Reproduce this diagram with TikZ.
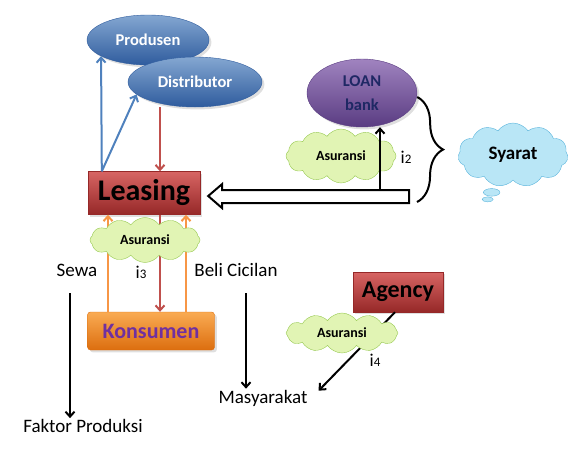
\documentclass[tikz,border=0pt]{standalone}
\usepackage{fontspec}
\setmainfont{Carlito}
\usetikzlibrary{positioning,shapes.geometric,shapes.symbols,shapes.callouts,arrows.meta,decorations.pathreplacing,shadows}

\definecolor{elblue}{RGB}{79,129,189}
\definecolor{elbluedark}{RGB}{47,92,158}
\definecolor{boxred}{RGB}{205,62,60}
\definecolor{boxreddark}{RGB}{150,40,40}
\definecolor{orangebox}{RGB}{248,150,40}
\definecolor{orangedark}{RGB}{220,110,15}
\definecolor{purpleel}{RGB}{128,90,170}
\definecolor{purpledark}{RGB}{90,60,130}
\definecolor{navytext}{RGB}{31,40,100}
\definecolor{cloudgreen}{RGB}{225,244,180}
\definecolor{cloudgreenline}{RGB}{150,200,80}
\definecolor{cloudblue}{RGB}{185,230,246}
\definecolor{cloudblueline}{RGB}{90,180,220}
\definecolor{arrowred}{RGB}{192,80,77}
\definecolor{arroworange}{RGB}{247,150,70}
\definecolor{konsviolet}{RGB}{112,48,160}

\begin{document}
\begin{tikzpicture}[x=1pt,y=-1pt,
  ell/.style={ellipse,draw=elbluedark,top color=elblue!70,bottom color=elbluedark,text=white,font=\bfseries\fontsize{16.5}{18}\selectfont,inner sep=0pt,drop shadow={opacity=0.25}},
  redbox/.style={rectangle,draw=boxreddark,top color=boxred!80,bottom color=boxreddark,inner sep=0pt,font=\bfseries,drop shadow={opacity=0.25}},
  asur/.style={cloud,cloud puffs=12,cloud puff arc=110,cloud ignores aspect,draw=cloudgreenline,fill=cloudgreen,inner sep=0pt,font=\bfseries\fontsize{14}{16}\selectfont},
  lbl/.style={font=\fontsize{19}{21}\selectfont,inner sep=1pt},
  ilbl/.style={font=\fontsize{18}{20}\selectfont,inner sep=1pt},
  tip/.style={-{Straight Barb[length=5pt,width=9pt]}},
  cn/.style={line width=2pt}]

\useasboundingbox (0,0) rectangle (588,461);

% top ellipses
\node[ell,minimum width=122,minimum height=50](prod) at (148,40) {Produsen};
\node[ell,minimum width=134,minimum height=50](dist) at (195,82) {Distributor};

% main boxes
\node[redbox,minimum width=112,minimum height=43,font=\bfseries\fontsize{30}{32}\selectfont](leas) at (144,193) {Leasing};
\node[rectangle,rounded corners=3pt,draw=orangedark,top color=orangebox!80,bottom color=orangedark,minimum width=127,minimum height=38,inner sep=0pt,text=konsviolet,font=\bfseries\fontsize{22}{24}\selectfont,drop shadow={opacity=0.25}](kons) at (151,331) {Konsumen};
\node[redbox,minimum width=90,minimum height=40,font=\bfseries\fontsize{24}{26}\selectfont](agen) at (398,292) {Agency};

% loan bank
\node[ellipse,draw=purpledark,top color=purpleel!75,bottom color=purpledark,minimum width=110,minimum height=68,inner sep=0pt,align=center,text=navytext,font=\bfseries\fontsize{16.5}{24}\selectfont,drop shadow={opacity=0.25}](loan) at (362,93) {LOAN\\bank};

% labels
\node[ilbl](i2) at (406,157) {i{\fontsize{13}{14}\selectfont 2}};
\node[ilbl](i3) at (141,272) {i{\fontsize{13}{14}\selectfont 3}};
\node[ilbl](i4) at (375,360) {i{\fontsize{13}{14}\selectfont 4}};
\node[lbl](sewa) at (77,270) {Sewa};
\node[lbl](beli) at (236,270) {Beli Cicilan};
\node[lbl](fakt) at (83,426) {Faktor Produksi};
\node[lbl](masy) at (263,398) {Masyarakat};

% connectors
\draw[tip,elblue,cn]([xshift=14pt]leas.north west) -- (prod.199);
\draw[tip,elblue,cn]([xshift=14pt]leas.north west) -- (dist.192);
\draw[tip,arrowred,cn]([xshift=16pt]leas.north |- dist.south) -- ([xshift=16pt]leas.north);
\draw[tip,arrowred,cn]([xshift=16pt]leas.south) -- ([xshift=16pt]leas.south |- kons.north);
\foreach \s in {-36,42}{
  \draw[tip,arroworange,cn]([xshift=\s pt]leas.south |- kons.north) -- ([xshift=\s pt]leas.south);
}
\draw[tip,cn](70,293) -- (70,0 |- fakt.north);
\draw[tip,cn](246,293) -- (246,0 |- masy.north);
\draw[tip,cn]([xshift=-3pt]agen.south) -- ([xshift=10pt,yshift=-2pt]masy.north east);

% clouds
\node[asur,minimum width=110,minimum height=54](as2) at (341,156) {Asuransi};
\node[asur,minimum width=110,minimum height=45](as3) at (145,240) {Asuransi};
\node[asur,minimum width=112,minimum height=40](as4) at (342,333) {Asuransi};
\node[cloud callout,cloud puffs=11,cloud puff arc=110,cloud ignores aspect,draw=cloudblueline,fill=cloudblue,minimum width=110,minimum height=64,inner sep=0pt,callout relative pointer={(-8pt,-14pt)},font=\bfseries\fontsize{19}{21}\selectfont](syar) at (513,155) {Syarat};

% hollow arrow to leasing, arrow up to loan, brace
\draw[line width=2pt,fill=white]([xshift=8pt,yshift=-3pt]leas.east) -- ++(14,-12) -- ++(0,6) -- (409,190) -- (409,203) -- (222,203) -- (222,208) -- cycle;
\coordinate (up) at (380,190);
\draw[tip,cn](up) -- (up |- loan.south);
\draw[cn,decorate,decoration={brace,amplitude=26pt,aspect=0.5}](loan.east |- 0,97) -- (417,202);
\end{tikzpicture}
\end{document}
